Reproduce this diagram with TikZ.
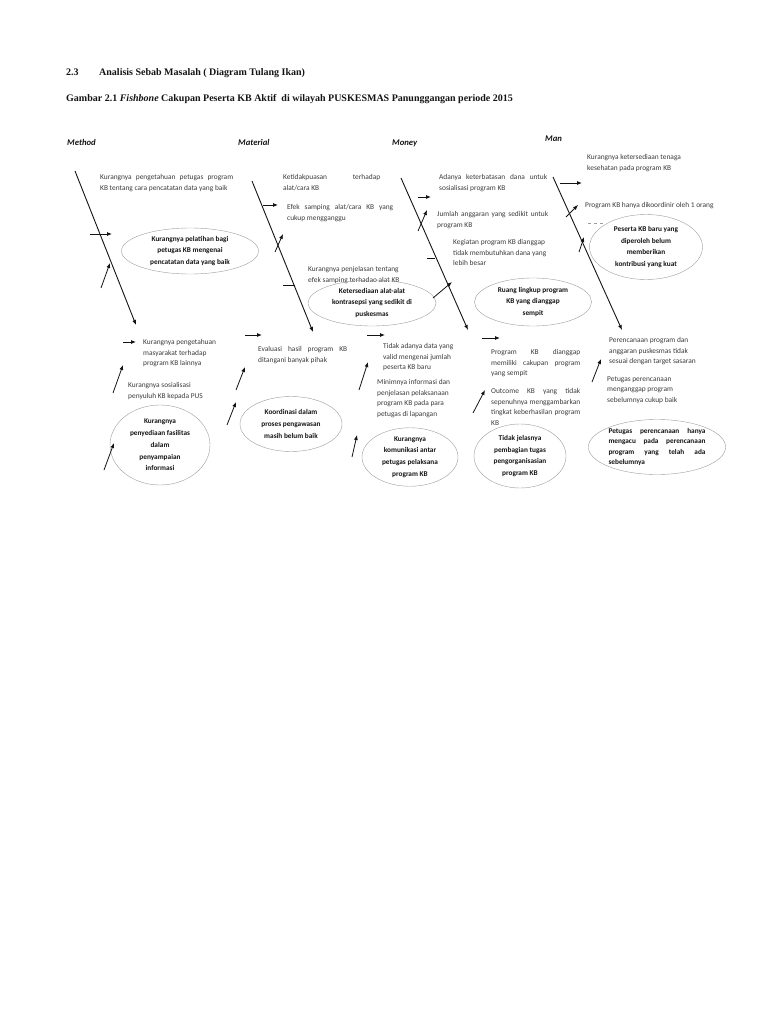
\documentclass[tikz,border=0pt]{standalone}
\usepackage{fontspec}
\setmainfont{Carlito}
\newfontfamily\headfont{Liberation Serif}
\usetikzlibrary{arrows.meta,shapes.geometric}
\definecolor{Ink}{HTML}{141414}
\definecolor{Muted}{HTML}{3A3A3A}
\definecolor{Rim}{HTML}{9C9C9C}
\newcommand\jline[2]{\makebox[#1pt][s]{#2}}
\tikzset{
  spine/.style={draw=Ink,line width=0.9pt,-{Latex[length=5pt,width=4pt]}},
  arrow/.style={draw=Ink,line width=0.8pt,-{Latex[length=5pt,width=4pt]}},
  tick/.style={draw=Ink,line width=0.8pt},
  cause/.style={anchor=north west,inner sep=0pt,align=left,text=Muted,font=\fontsize{7.4}{10.5}\selectfont},
  root/.style={ellipse,draw=Rim,line width=0.4pt,inner sep=0pt,align=center,text=Ink,font=\bfseries\fontsize{7.3}{11.8}\selectfont},
  bone/.style={anchor=base west,inner sep=0pt,text=Ink,font=\bfseries\itshape\fontsize{8.7}{10}\selectfont},
  heading/.style={anchor=base west,inner sep=0pt,text=Ink,font=\headfont\bfseries\fontsize{10}{12}\selectfont}
}

\begin{document}
\begin{tikzpicture}[x=1pt,y=-1pt]
  \useasboundingbox (0,0) rectangle (768,1024);
  % headings
  \node[heading] (secno) at (66,76) {2.3};
  \node[heading] (sectitle) at (99,76) {Analisis Sebab Masalah ( Diagram Tulang Ikan)};
  \node[heading] (figtitle) at (66,102) {Gambar 2.1 \textit{Fishbone} Cakupan Peserta KB Aktif\ \ di wilayah PUSKESMAS Panunggangan periode 2015};
  \node[bone] (method) at (67,146) {Method};
  \node[bone] (material) at (238,146) {Material};
  \node[bone] (money) at (392,146) {Money};
  \node[bone] (man) at (545,142) {Man};
  % bones
  \draw[spine] (75,171) -- (136,325);
  \draw[spine] (252,181) -- (313,332);
  \draw[spine] (401,178) -- (468,330);
  \draw[spine] (553,177) -- (622,330);
  \draw[tick] (283,285) -- (295,285);
  \draw[tick] (427,258) -- (435,258);
  \draw[Rim,dashed,line width=0.4pt] (588,223) -- (605,223);
  % method
  \node[cause] (mt1) at (100,174.5) {\jline{133}{Kurangnya pengetahuan petugas program}\\KB tentang cara pencatatan data yang baik};
  \node[root,minimum width=137,minimum height=46] (mtroot1) at (190,251) {Kurangnya pelatihan bagi\\petugas KB mengenai\\pencatatan data yang baik};
  \node[cause] (mt2) at (143,339.5) {Kurangnya pengetahuan\\masyarakat terhadap\\program KB lainnya};
  \node[cause] (mt3) at (128,382.5) {Kurangnya sosialisasi\\penyuluh KB kepada PUS};
  \node[root,minimum width=100,minimum height=80] (mtroot2) at (160,445) {Kurangnya\\penyediaan fasilitas\\dalam\\penyampaian\\informasi};
  \draw[arrow] (90,234) -- (112,234);
  \draw[arrow] (101,288) -- (110,263);
  \draw[arrow] (123,342) -- (136,342);
  \draw[arrow] (113,393) -- (123,365);
  \draw[arrow] (104,470) -- (114,443);
  % material
  \node[cause] (ma1) at (283,174.5) {\jline{97}{Ketidakpuasan terhadap}\\alat/cara KB};
  \node[cause] (ma2) at (287,204.5) {\jline{106}{Efek samping alat/cara KB yang}\\cukup mengganggu};
  \node[cause] (ma3) at (308,266.5) {Kurangnya penjelasan tentang\\efek samping terhadao alat KB};
  \node[root,minimum width=128,minimum height=46] (maroot1) at (372,303) {Ketersediaan alat-alat\\kontrasepsi yang sedikit di\\puskesmas};
  \node[cause] (ma4) at (258,346.5) {\jline{89}{Evaluasi hasil program KB}\\ditangani banyak pihak};
  \node[root,minimum width=102,minimum height=55] (maroot2) at (291,424) {Koordinasi dalam\\proses pengawasan\\masih belum baik};
  \draw[arrow] (263,205) -- (278,205);
  \draw[arrow] (275,252) -- (283,234);
  \draw[arrow] (245,335) -- (262,335);
  \draw[arrow] (236,390) -- (245,367);
  \draw[arrow] (227,425) -- (236,402);
  % money
  \node[cause] (mo1) at (439,174.5) {\jline{108}{Adanya keterbatasan dana untuk}\\sosialisasi program KB};
  \node[cause] (mo2) at (437,211.5) {\jline{111}{Jumlah anggaran yang sedikit untuk}\\program KB};
  \node[cause] (mo3) at (453,239.5) {Kegiatan program KB dianggap\\tidak membutuhkan dana yang\\lebih besar};
  \node[root,minimum width=117,minimum height=48] (moroot1) at (533,302) {Ruang lingkup program\\KB yang dianggap\\sempit};
  \node[cause] (mo4) at (383,343.5) {Tidak adanya data yang\\valid mengenai jumlah\\peserta KB baru};
  \node[cause] (mo5) at (377,379.5) {Minimnya informasi dan\\penjelasan pelaksanaan\\program KB pada para\\petugas di lapangan};
  \node[root,minimum width=96,minimum height=58] (moroot2) at (410,457) {Kurangnya\\komunikasi antar\\petugas pelaksana\\program KB};
  \draw[arrow] (418,197) -- (431,197);
  \draw[arrow] (418,231) -- (427,210);
  \draw[arrow] (433,298) -- (452,282);
  \draw[arrow] (367,335) -- (385,335);
  \draw[arrow] (359,390) -- (368,362);
  \draw[arrow] (352,457) -- (357,435);
  % man
  \node[cause] (mn1) at (587,154.5) {Kurangnya ketersediaan tenaga\\kesehatan pada program KB};
  \node[cause] (mn2) at (585,202.5) {Program KB hanya dikoordinir oleh 1 orang};
  \node[root,minimum width=113,minimum height=65] (mnroot1) at (646,247) {Peserta KB baru yang\\diperoleh belum\\memberikan\\kontribusi yang kuat};
  \node[cause] (mn3) at (491,349.5) {\jline{89}{Program KB dianggap}\\\jline{89}{memiliki cakupan program}\\yang sempit};
  \node[cause] (mn4) at (491,388.5) {\jline{89}{Outcome KB yang tidak}\\\jline{89}{sepenuhnya menggambarkan}\\\jline{89}{tingkat keberhasilan program}\\KB};
  \node[root,minimum width=92,minimum height=64] (mnroot2) at (520,456) {Tidak jelasnya\\pembagian tugas\\pengorganisasian\\program KB};
  \node[cause] (mn5) at (609,337.5) {Perencanaan program dan\\anggaran puskesmas tidak\\sesuai dengan target sasaran};
  \node[cause] (mn6) at (607,376.5) {Petugas perencanaan\\menganggap program\\sebelumnya cukup baik};
  \node[root,minimum width=130,minimum height=55,align=left,font=\bfseries\fontsize{7.3}{10.5}\selectfont] (mnroot3) at (657,447) {\jline{97}{Petugas perencanaan hanya}\\\jline{97}{mengacu pada perencanaan}\\\jline{97}{program yang telah ada}\\sebelumnya};
  \draw[arrow] (560,183) -- (582,183);
  \draw[arrow] (566,217) -- (578,205);
  \draw[arrow] (579,252) -- (584,237);
  \draw[arrow] (482,338) -- (500,338);
  \draw[arrow] (473,413) -- (485,390);
  \draw[arrow] (592,382) -- (601,359);
\end{tikzpicture}
\end{document}
